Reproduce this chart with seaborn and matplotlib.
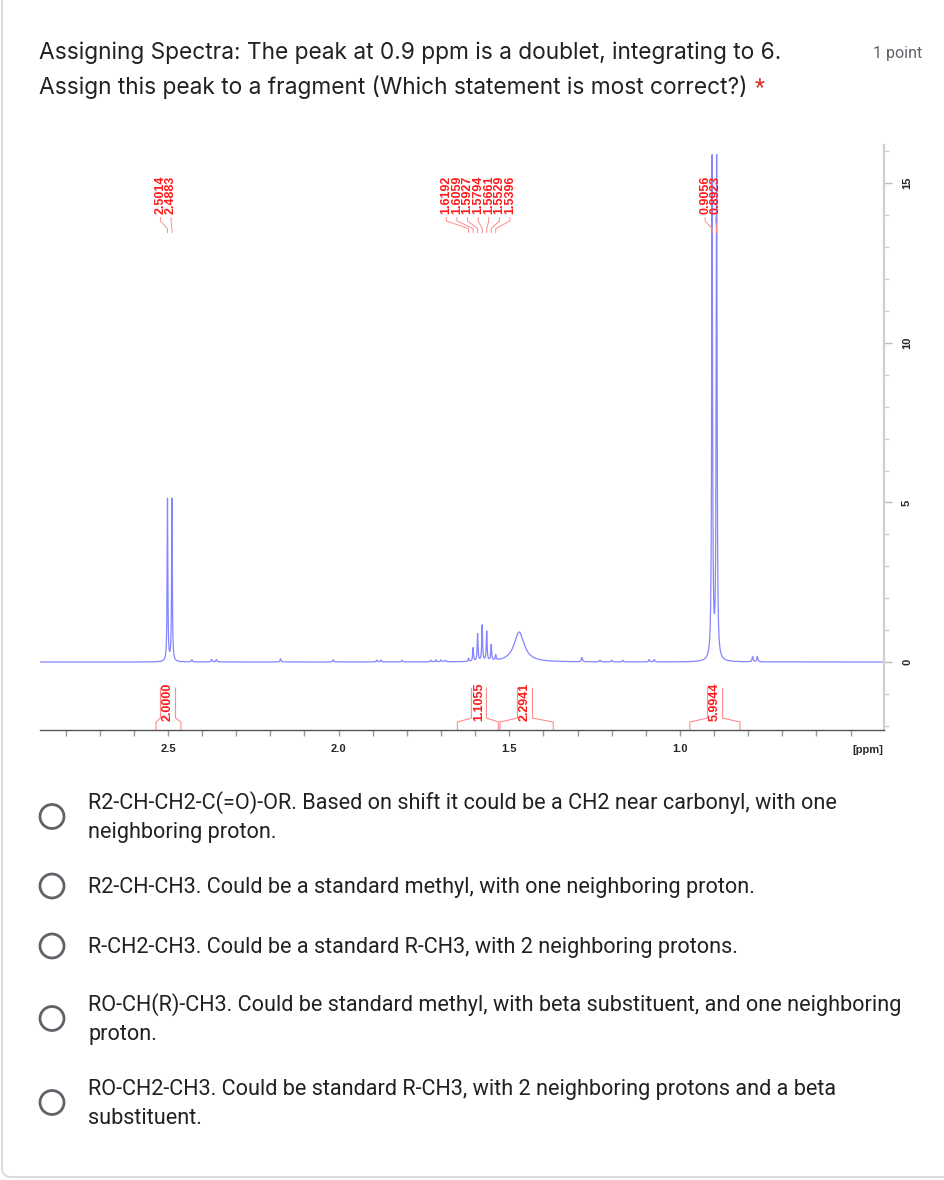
import numpy as np
import pandas as pd
import matplotlib
matplotlib.use("Agg")
import matplotlib.pyplot as plt
from matplotlib.patches import Circle, FancyBboxPatch
import seaborn as sns

# question text
title_lines = ["Assigning Spectra: The peak at 0.9 ppm is a doublet, integrating to 6.",
               "Assign this peak to a fragment (Which statement is most correct?)"]
points_label = "1 point"
options = [
    ["R2-CH-CH2-C(=O)-OR. Based on shift it could be a CH2 near carbonyl, with one",
     "neighboring proton."],
    ["R2-CH-CH3. Could be a standard methyl, with one neighboring proton."],
    ["R-CH2-CH3. Could be a standard R-CH3, with 2 neighboring protons."],
    ["RO-CH(R)-CH3. Could be standard methyl, with beta substituent, and one neighboring",
     "proton."],
    ["RO-CH2-CH3. Could be standard R-CH3, with 2 neighboring protons and a beta",
     "substituent."],
]

# main peaks (ppm, height, half width)
peak_ppm = [2.5014, 2.4883, 1.6192, 1.6059, 1.5927, 1.5794, 1.5661, 1.5529, 1.5396,
            1.471, 0.9056, 0.8923]
peak_height = [5.1, 5.1, 0.1, 0.42, 0.86, 1.12, 0.92, 0.49, 0.16, 0.94, 15.7, 15.7]
peak_width = [0.0012, 0.0012, 0.0014, 0.0014, 0.0014, 0.0014, 0.0014, 0.0014, 0.0014,
              0.018, 0.0015, 0.0015]

# small impurity peaks
minor_ppm = [2.43, 2.372, 2.358, 2.17, 2.016, 1.888, 1.876, 1.814, 1.73, 1.715, 1.70,
             1.687, 1.287, 1.234, 1.20, 1.167, 1.09, 1.075, 0.787, 0.773]
minor_height = [0.07, 0.08, 0.08, 0.1, 0.07, 0.06, 0.06, 0.05, 0.05, 0.06, 0.06,
                0.05, 0.13, 0.05, 0.05, 0.05, 0.07, 0.07, 0.17, 0.17]

# peak pick labels (groups)
pick_groups = [["2.5014", "2.4883"],
               ["1.6192", "1.6059", "1.5927", "1.5794", "1.5661", "1.5529", "1.5396"],
               ["0.9056", "0.8923"]]

# integrals
integ_values = ["2.0000", "1.1055", "2.2941", "5.9944"]
integ_start = [2.535, 1.652, 1.527, 0.971]
integ_end = [2.462, 1.532, 1.371, 0.824]
integ_mid = [2.500, 1.589, 1.454, 0.897]

x_major = [2.5, 2.0, 1.5, 1.0]
x_labels = ["2.5", "2.0", "1.5", "1.0"]
y_major = [0, 5, 10, 15]

# build spectrum from the peak table
ppm = np.linspace(0.402, 2.875, 24000)
intensity = np.zeros_like(ppm)
for p, h, w in zip(peak_ppm, peak_height, peak_width):
    intensity += h * w ** 2 / ((ppm - p) ** 2 + w ** 2)
for p, h in zip(minor_ppm, minor_height):
    intensity += h * 0.0018 ** 2 / ((ppm - p) ** 2 + 0.0018 ** 2)
spec = pd.DataFrame({"ppm": ppm, "intensity": intensity})

sns.set_style("white")
plt.rcParams['font.family'] = ['Roboto', 'DejaVu Sans']

W, H = 944, 1180
fig = plt.figure(figsize=(W / 100, H / 100), dpi=100)
fig.patch.set_facecolor("white")

# spectrum axes placed in pixel terms
left, right, top, bottom = 40, 884, 145, 730
ax = fig.add_axes([left / W, 1 - bottom / H, (right - left) / W, (bottom - top) / H])
sns.lineplot(data=spec, x="ppm", y="intensity", ax=ax, color="#8585ff",
             linewidth=0.9, estimator=None, sort=False)
ax.set_xlim(2.875, 0.402)
ax.set_ylim(-2.13, 16.2)
ax.set_xlabel("")
ax.set_ylabel("")
ax.set_facecolor("none")

for s in ["left", "top"]:
    ax.spines[s].set_visible(False)
ax.spines["right"].set_color("#cfcfcf")
ax.spines["right"].set_linewidth(1.6)
ax.spines["bottom"].set_color("#555555")
ax.spines["bottom"].set_linewidth(1.0)

tick_font = dict(family="Liberation Sans", weight="bold", size=8)
ax.set_xticks(x_major)
ax.set_xticklabels(x_labels, fontdict=tick_font)
ax.set_xticks([round(v, 1) for v in np.arange(0.5, 2.85, 0.1)], minor=True)
ax.tick_params(axis="x", which="both", direction="out", length=4, width=1,
               color="#999999", pad=6, bottom=True)

ax.yaxis.tick_right()
ax.set_yticks(y_major)
ax.set_yticklabels([str(v) for v in y_major], fontdict=tick_font, rotation=90, va="center")
ax.set_yticks(list(range(-2, 17)), minor=True)
ax.tick_params(axis="y", which="major", direction="out", length=6, width=1,
               color="#bbbbbb", pad=7, right=True, left=False)
ax.tick_params(axis="y", which="minor", direction="out", length=3.5, width=1,
               color="#cccccc", right=True, left=False)

ax.text(0.448, -2.6, "[ppm]", ha="center", va="top", clip_on=False,
        fontfamily="Liberation Sans", fontweight="bold", fontsize=8)

red = "#ff1a1a"
pink = "#ff8c8c"
px = 1 / 341.3  # ppm per pixel

# peak pick labels with connectors
for group in pick_groups:
    vals = [float(v) for v in group]
    n = len(vals)
    centre = np.mean(vals) + 4 * px
    for i, (lab, v) in enumerate(zip(group, vals)):
        lx = centre + (n - 1) / 2 * 10.6 * px - i * 10.6 * px
        ax.text(lx, 14.05, lab, rotation=90, ha="center", va="bottom", color=red,
                fontfamily="Liberation Sans", fontweight="bold", fontsize=9)
        ax.plot([lx, lx, v, v], [13.93, 13.82, 13.58, 13.45], color=pink, lw=0.7)

# integral brackets
half = 7.5 * px
for val, a, b, m in zip(integ_values, integ_start, integ_end, integ_mid):
    xs = [a, a, m + half, m + half]
    ys = [-2.13, -1.88, -1.755, -0.815]
    ax.plot(xs, ys, color=pink, lw=0.8, clip_on=False)
    ax.plot([b, b, m - half, m - half], ys, color=pink, lw=0.8, clip_on=False)
    ax.text(m, -1.85, val, rotation=90, ha="center", va="bottom", color=red,
            fontfamily="Liberation Sans", fontweight="bold", fontsize=9)

# page overlay in pixel coordinates
ov = fig.add_axes([0, 0, 1, 1])
ov.set_xlim(0, W)
ov.set_ylim(H, 0)
ov.axis("off")

card = FancyBboxPatch((2, -40), 960, 1217, boxstyle="round,pad=0,rounding_size=9",
                      facecolor="none", edgecolor="#dadce0", lw=1.4)
ov.add_patch(card)


def fit_size(txt, target):
    # scale the font so the rendered line spans the target pixel width
    fig.canvas.draw()
    w = txt.get_window_extent().width
    txt.set_fontsize(txt.get_fontsize() * target / w)
    return txt.get_fontsize()


ink = "#202124"
t1 = ov.text(39, 59, title_lines[0], fontsize=15.3, color=ink, va="baseline",
             fontfamily=["Inter", "DejaVu Sans"])
tsize = fit_size(t1, 744)
t2 = ov.text(39, 94, title_lines[1], fontsize=tsize, color=ink, va="baseline",
             fontfamily=["Inter", "DejaVu Sans"])
ov.text(922, 58, points_label, fontsize=11.5, color="#5f6368", ha="right", va="baseline")
fig.canvas.draw()
bb = t2.get_window_extent()
ov.text(bb.x1 + 7, 94, "*", fontsize=tsize, color="#d93025", va="baseline")

opt_baselines = [809, 893, 953, 1011, 1095]
probe = ov.text(88, -200, options[0][0], fontsize=13.8)
osize = fit_size(probe, 748)
probe.remove()
for lines, yb in zip(options, opt_baselines):
    for j, line in enumerate(lines):
        ov.text(88, yb + 29 * j, line, fontsize=osize, color=ink, va="baseline")
    cy = yb - 7 + 14.5 * (len(lines) - 1)
    ov.add_patch(Circle((52, cy), 12, facecolor="none", edgecolor="#5f6368", lw=2))

fig.savefig("out.png", dpi=100, facecolor="white")
